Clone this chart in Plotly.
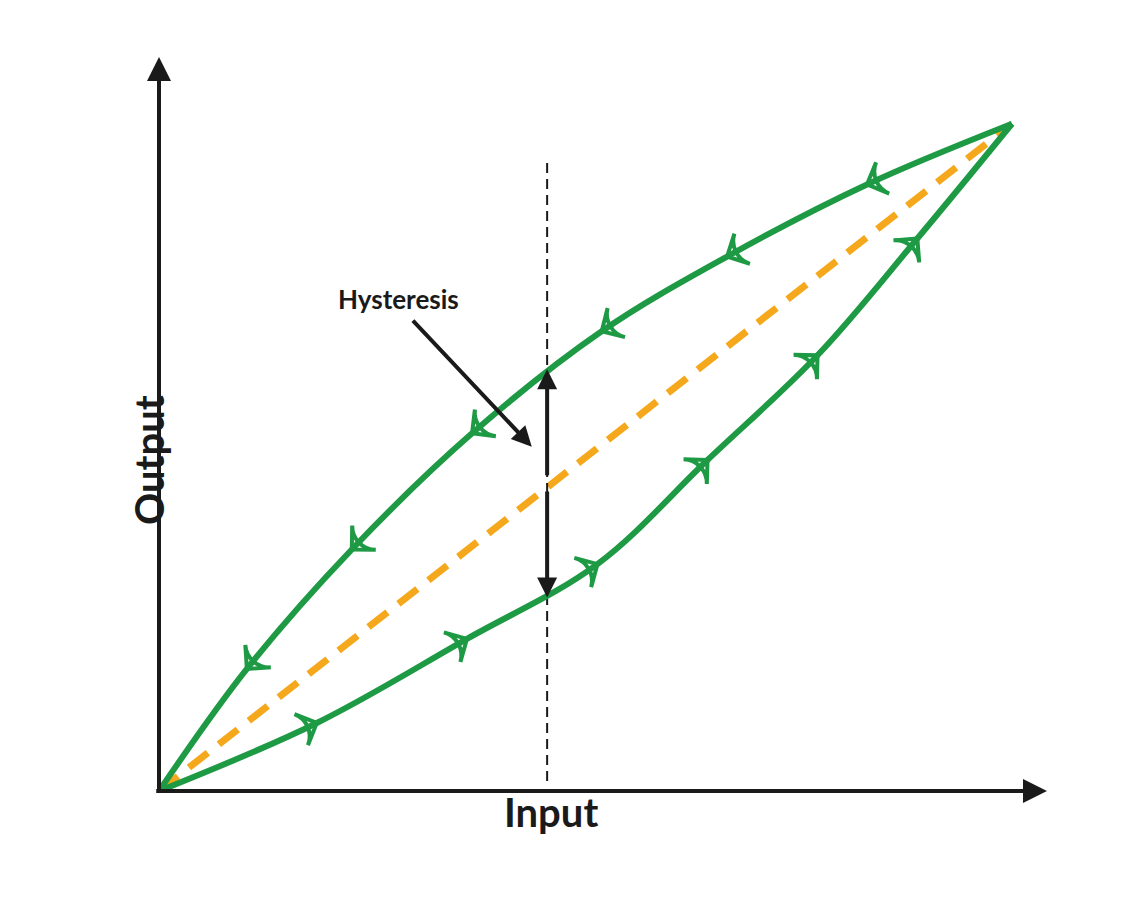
import plotly.graph_objects as go

# upper branch (travelled from top-right back to origin)
upper_x = [1.0, 0.830, 0.666, 0.519, 0.367, 0.226, 0.103, 0.0]
upper_y = [1.0, 0.909, 0.801, 0.689, 0.536, 0.362, 0.183, 0.0]
upper_marks = [0, 1, 1, 1, 1, 1, 1, 0]
# lower branch (travelled from origin up to top-right)
lower_x = [0.0, 0.185, 0.361, 0.514, 0.643, 0.772, 0.889, 1.0]
lower_y = [0.0, 0.102, 0.228, 0.340, 0.496, 0.653, 0.828, 1.0]
lower_marks = [0, 1, 1, 1, 1, 1, 1, 0]

cut_x = 0.455
gap_top, gap_bottom = 0.632, 0.290

green = "#1E9A45"
orange = "#F5A81C"
dark = "#1a1a1a"

fig = go.Figure()

fig.add_trace(go.Scatter(x=[0, 1], y=[0, 1], mode="lines",
                         line=dict(color=orange, width=7, dash="24px,14px")))
fig.add_trace(go.Scatter(x=[cut_x, cut_x], y=[0.015, 0.943], mode="lines",
                         line=dict(color=dark, width=2, dash="10px,6px")))

for xs, ys, mk in [(upper_x, upper_y, upper_marks), (lower_x, lower_y, lower_marks)]:
    fig.add_trace(go.Scatter(
        x=xs, y=ys, mode="lines+markers",
        line=dict(color=green, width=6, shape="spline"),
        marker=dict(symbol="arrow-wide-open", size=[24 * m for m in mk],
                    angleref="previous", color=green, opacity=1,
                    line=dict(color=green, width=4))))

# axes arrows
fig.add_annotation(x=1.041, y=0, ax=-0.005, ay=0, xref="x", yref="y", axref="x", ayref="y",
                   text="", showarrow=True, arrowhead=2, arrowsize=1.2, arrowwidth=4, arrowcolor=dark)
fig.add_annotation(x=0, y=1.10, ax=0, ay=-0.005, xref="x", yref="y", axref="x", ayref="y",
                   text="", showarrow=True, arrowhead=2, arrowsize=1.2, arrowwidth=4, arrowcolor=dark)

# hysteresis double arrow
mid = (gap_top + gap_bottom) / 2
for tip in (gap_top, gap_bottom):
    fig.add_annotation(x=cut_x, y=tip, ax=cut_x, ay=mid + (0.01 if tip > mid else -0.01),
                       xref="x", yref="y", axref="x", ayref="y",
                       text="", showarrow=True, arrowhead=2, arrowsize=1, arrowwidth=4, arrowcolor=dark)

fig.add_annotation(x=0.437, y=0.516, ax=0.296, ay=0.707, xref="x", yref="y", axref="x", ayref="y",
                   text="", showarrow=True, arrowhead=2, arrowsize=1, arrowwidth=4, arrowcolor=dark)
fig.add_annotation(x=0.281, y=0.738, xref="x", yref="y", text="<b>Hysteresis</b>", showarrow=False,
                   font=dict(size=26, color=dark, family="Lato"))

fig.add_annotation(x=543, y=899 - 830, xref="paper", yref="paper", text="<b>Input</b>",
                   showarrow=False, font=dict(size=40, color=dark, family="Lato"))
fig.add_annotation(x=115, y=899 - 452, xref="paper", yref="paper", text="<b>Output</b>",
                   showarrow=False, textangle=-90, font=dict(size=40, color=dark, family="Lato"))

fig.update_xaxes(range=[0, 1.041], visible=False)
fig.update_yaxes(range=[0, 1.10], visible=False)
fig.update_layout(width=1142, height=899, showlegend=False,
                  margin=dict(l=151, r=103, t=49, b=116),
                  plot_bgcolor="white", paper_bgcolor="white")

# paper-space annotations: convert pixel positions to paper fractions
pw, ph = 1142 - 151 - 103, 899 - 49 - 116
for a in fig.layout.annotations:
    if a.xref == "paper":
        a.x = (a.x - 151) / pw
        a.y = (a.y - 116) / ph

fig.write_html("out.html")
